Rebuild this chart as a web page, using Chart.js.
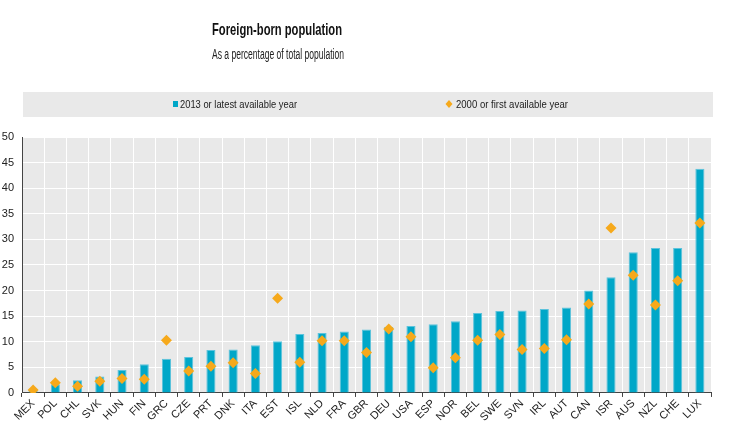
<!DOCTYPE html>
<html>
<head>
<meta charset="utf-8">
<script src="https://cdn.jsdelivr.net/npm/chart.js@4.4.1/dist/chart.umd.min.js"></script>
<style>
  html, body { margin: 0; padding: 0; background: #fff; }
  #wrap { width: 730px; height: 424px; }
</style>
</head>
<body>
<div id="wrap"><canvas id="chart" width="730" height="424"></canvas></div>
<script>
var countries = ["MEX", "POL", "CHL", "SVK", "HUN", "FIN", "GRC", "CZE", "PRT", "DNK", "ITA", "EST", "ISL", "NLD", "FRA", "GBR", "DEU", "USA", "ESP", "NOR", "BEL", "SWE", "SVN", "IRL", "AUT", "CAN", "ISR", "AUS", "NZL", "CHE", "LUX"];
var latest = [0.8, 1.7, 2.5, 3.2, 4.5, 5.6, 6.7, 7.0, 8.4, 8.5, 9.3, 10.1, 11.5, 11.7, 12.0, 12.4, 12.9, 13.1, 13.4, 14.0, 15.6, 16.0, 16.1, 16.4, 16.7, 20.0, 22.6, 27.5, 28.3, 28.3, 43.8];
var first = [0.6, 2.0, 1.3, 2.3, 2.8, 2.7, 10.3, 4.3, 5.2, 5.9, 3.8, 18.5, 6.0, 10.2, 10.2, 7.9, 12.5, 11.0, 4.9, 6.9, 10.3, 11.4, 8.5, 8.7, 10.4, 17.4, 32.2, 23.0, 17.2, 21.9, 33.2];
var yTicks = [0, 5, 10, 15, 20, 25, 30, 35, 40, 45, 50];

var fontFam = '"Liberation Sans Narrow", "Liberation Sans", Arial, sans-serif';
Chart.defaults.font.family = fontFam;
Chart.defaults.color = '#222';

// draw text squeezed horizontally so it fills a given width (reference uses a narrow face)
function narrowText(ctx, text, x, y, width, align) {
    var w = ctx.measureText(text).width;
    var s = Math.min(1, width / w);
    ctx.save();
    ctx.translate(x, y);
    ctx.scale(s, 1);
    ctx.textAlign = align;
    ctx.fillText(text, 0, 0);
    ctx.restore();
}

// grey plot background, title block and grey legend band
var decor = {
    id: 'decor',
    beforeDraw: function(chart) {
        var ctx = chart.ctx, a = chart.chartArea;
        ctx.save();
        ctx.fillStyle = '#e9e9e9';
        ctx.fillRect(a.left, a.top, a.right - a.left, a.bottom - a.top);
        ctx.restore();
    },
    afterDraw: function(chart) {
        var ctx = chart.ctx;
        var bars = chart.data.datasets[1], dots = chart.data.datasets[0];
        ctx.save();
        ctx.textBaseline = 'middle';
        ctx.fillStyle = '#111';
        ctx.font = 'bold 17px ' + fontFam;
        narrowText(ctx, 'Foreign-born population', 277, 30, 130, 'center');
        ctx.font = '14px ' + fontFam;
        ctx.fillStyle = '#222';
        narrowText(ctx, 'As a percentage of total population', 278, 55, 132, 'center');

        ctx.fillStyle = '#e9e9e9';
        ctx.fillRect(23, 92, 690, 25);
        ctx.font = '11.5px ' + fontFam;
        ctx.fillStyle = bars.backgroundColor;
        ctx.fillRect(173, 101, 5, 6);
        ctx.fillStyle = '#222';
        narrowText(ctx, bars.label, 180, 105, 117, 'left');
        ctx.fillStyle = dots.backgroundColor;
        ctx.beginPath();
        ctx.moveTo(449, 100);
        ctx.lineTo(452.5, 104);
        ctx.lineTo(449, 108);
        ctx.lineTo(445.5, 104);
        ctx.closePath();
        ctx.fill();
        ctx.fillStyle = '#222';
        narrowText(ctx, dots.label, 456, 105, 112, 'left');
        ctx.restore();
    }
};

new Chart(document.getElementById('chart'), {
    type: 'bar',
    data: {
        labels: countries,
        datasets: [
            {
                label: '2000 or first available year',
                type: 'line',
                data: first,
                showLine: false,
                pointStyle: 'rectRot',
                pointRadius: 5.5,
                pointHoverRadius: 5.5,
                backgroundColor: '#F6A91B',
                borderColor: '#F6A91B',
                borderWidth: 0,
                order: 0
            },
            {
                label: '2013 or latest available year',
                data: latest,
                backgroundColor: '#00A7C8',
                borderColor: '#5cc3dc',
                borderWidth: 1,
                borderSkipped: 'bottom',
                categoryPercentage: 1,
                barPercentage: 0.41,
                order: 1
            }
        ]
    },
    options: {
        responsive: false,
        animation: false,
        layout: { padding: { top: 137, right: 19, bottom: 0, left: 0 } },
        plugins: {
            legend: { display: false },
            tooltip: { enabled: false },
            title: { display: false }
        },
        scales: {
            x: {
                offset: true,
                grid: {
                    offset: true,
                    color: '#ffffff',
                    lineWidth: 1,
                    tickColor: '#444',
                    tickLength: 4
                },
                border: { color: '#444', width: 1 },
                ticks: {
                    minRotation: 45,
                    maxRotation: 45,
                    autoSkip: false,
                    padding: 0,
                    font: { size: 11 },
                    color: '#222'
                }
            },
            y: {
                min: 0,
                max: 50,
                afterBuildTicks: function(axis) {
                    axis.ticks = yTicks.map(function(v) { return { value: v }; });
                },
                afterFit: function(axis) { axis.width = 22; },
                grid: {
                    color: '#ffffff',
                    lineWidth: 1,
                    drawTicks: false
                },
                border: { color: '#444', width: 1 },
                ticks: {
                    padding: 8,
                    font: { size: 11 },
                    color: '#222'
                }
            }
        }
    },
    plugins: [decor]
});
</script>
</body>
</html>
